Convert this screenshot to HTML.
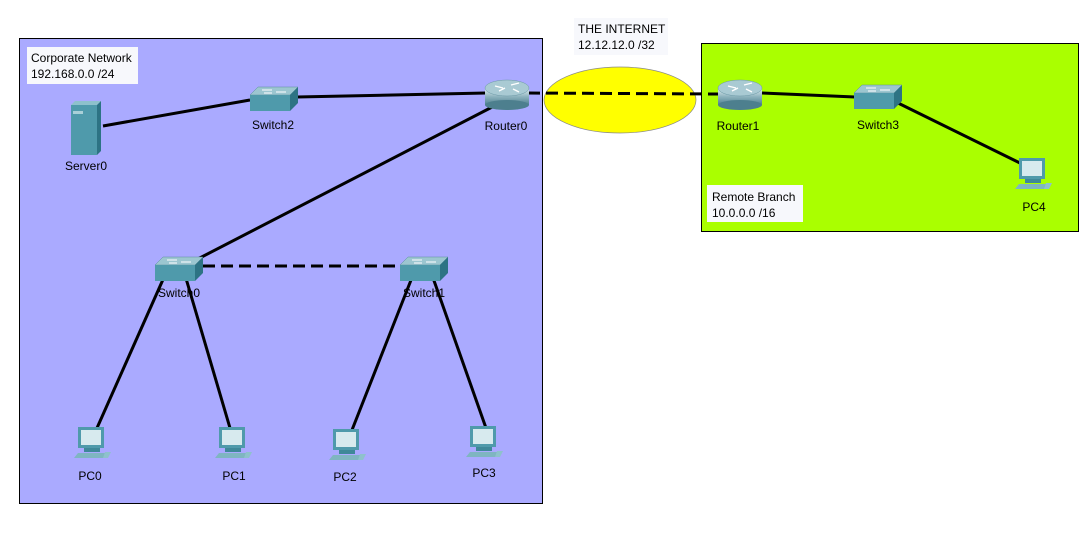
<!DOCTYPE html>
<html><head><meta charset="utf-8"><style>
body{margin:0;background:#fff;}
svg{display:block;font-family:"Liberation Sans",sans-serif;font-size:12px;}
</style></head><body>
<svg width="1092" height="534" viewBox="0 0 1092 534">
<defs>
<linearGradient id="rg" x1="0" y1="0" x2="0" y2="1"><stop offset="0" stop-color="#e8f2f4"/><stop offset="0.5" stop-color="#8fb4bf"/><stop offset="1" stop-color="#4d7f8e"/></linearGradient>
<g id="sw">
<polygon points="0,8 8,0 48,0 40,8" fill="#9cc6d0" stroke="#5a8e9c" stroke-width="0.5"/>
<polygon points="40,8 48,0 48,16 40,24" fill="#2d7384"/>
<rect x="0" y="8" width="40" height="16" fill="#4f9aab"/>
<path d="M12 3h10M26 5h10M14 6h8" stroke="#fff" stroke-width="1"/>
</g>
<g id="rt">
<rect x="0" y="9" width="44" height="17" fill="url(#rg)"/>
<ellipse cx="22" cy="26" rx="22" ry="5" fill="#4d7f8e"/>
<ellipse cx="22" cy="9" rx="22" ry="8" fill="#a9cad3" stroke="#6a98a5" stroke-width="0.5"/>
<path d="M10 7l8 2M26 6l8 -2M14 12l6 -3M28 10l6 3" stroke="#fff" stroke-width="1.3"/>
</g>
<g id="pc">
<rect x="4" y="0" width="26" height="21" fill="#4f9aab"/>
<rect x="7" y="3" width="20" height="15" fill="#d7eaee"/>
<rect x="10" y="21" width="16" height="4" fill="#3f8899"/>
<polygon points="0,31 4,26 34,26 30,31" fill="#7fb5c1"/>
<polygon points="31,25 37,25 34,31 29,31" fill="#8ec1cc"/>
</g>
</defs>
<rect x="19.5" y="38.5" width="523" height="465" fill="#aaaaff" stroke="#000"/>
<rect x="701.5" y="43.5" width="377" height="188" fill="#aaff00" stroke="#000"/>
<rect x="27" y="47" width="111" height="37" fill="#f7f8fc"/>
<text x="31" y="62">Corporate Network</text><text x="31" y="78">192.168.0.0 /24</text>
<rect x="574" y="18" width="94" height="37" fill="#f7f8fc"/>
<text x="578" y="33">THE INTERNET</text><text x="578" y="49">12.12.12.0 /32</text>
<rect x="707" y="185" width="96" height="37" fill="#f7f8fc"/>
<text x="712" y="201">Remote Branch</text><text x="712" y="217">10.0.0.0 /16</text>
<ellipse cx="620" cy="100" rx="76" ry="33" fill="#ffff00" stroke="#888" stroke-width="0.7"/>
<g stroke="#000" stroke-width="3" fill="none">
<line x1="103" y1="126" x2="250" y2="100"/>
<line x1="297" y1="97" x2="486" y2="93"/>
<line x1="498" y1="104" x2="190" y2="263"/>
<line x1="528" y1="93" x2="718" y2="94" stroke-dasharray="12,6"/>
<line x1="203" y1="266" x2="400" y2="266" stroke-dasharray="12,6"/>
<line x1="165" y1="275" x2="97" y2="428"/>
<line x1="185" y1="275" x2="230" y2="428"/>
<line x1="413" y1="275" x2="352" y2="430"/>
<line x1="432" y1="275" x2="486" y2="428"/>
<line x1="762" y1="93" x2="855" y2="97"/>
<line x1="898" y1="103" x2="1030" y2="168"/>
</g>
<g>
<polygon points="71,105 75,101 101,101 97,105" fill="#8ec1cc"/>
<polygon points="97,105 101,101 101,151 97,155" fill="#2d7384"/>
<rect x="71" y="105" width="26" height="50" fill="#4f9aab"/>
<rect x="73" y="111" width="10" height="3" fill="#a9d0d8"/>
</g>
<use href="#sw" x="250" y="87"/><use href="#sw" x="854" y="85"/>
<use href="#sw" x="155" y="257"/><use href="#sw" x="400" y="257"/>
<use href="#rt" x="485" y="79"/><use href="#rt" x="718" y="79"/>
<use href="#pc" x="74" y="427"/><use href="#pc" x="215" y="427"/>
<use href="#pc" x="329" y="429"/><use href="#pc" x="466" y="426"/>
<use href="#pc" x="1015" y="158"/>
<g text-anchor="middle">
<text x="86" y="170">Server0</text><text x="273" y="129">Switch2</text>
<text x="506" y="130">Router0</text><text x="738" y="130">Router1</text>
<text x="878" y="129">Switch3</text><text x="1034" y="211">PC4</text>
<text x="179" y="297">Switch0</text><text x="424" y="297">Switch1</text>
<text x="90" y="480">PC0</text><text x="234" y="480">PC1</text>
<text x="345" y="481">PC2</text><text x="484" y="477">PC3</text>
</g>
</svg>
</body></html>
